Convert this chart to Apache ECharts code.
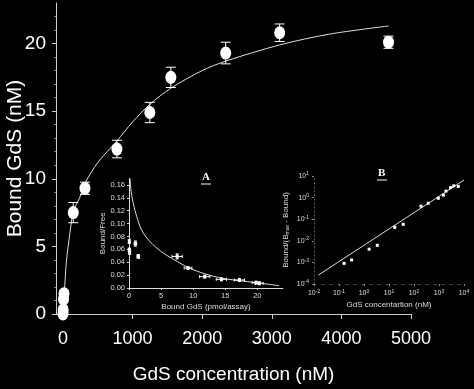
<!DOCTYPE html>
<html><head><meta charset="utf-8">
<script src="https://cdn.jsdelivr.net/npm/echarts@6/dist/echarts.min.js"></script>
<style>html,body{margin:0;padding:0;background:#000}#c{width:474px;height:389px}</style>
</head><body><div id="c"></div>
<script>
// ---- main panel data ----
const mainX   = [0, 3, 8, 15, 148, 316, 775, 1248, 1550, 2338, 3113, 4677];
const mainY   = [0, 0.3, 1.1, 1.5, 7.5, 9.3, 12.2, 14.9, 17.5, 19.3, 20.8, 20.1];
const mainErr = [0, 0, 0, 0.2, 0.75, 0.45, 0.65, 0.75, 0.75, 0.8, 0.65, 0.45];
const fitX = [0, 20, 50, 100, 150, 240, 320, 500, 775, 1000, 1248, 1550, 2000, 2338, 3113, 3830, 4677];
const fitY = [0, 1.6, 3.9, 6.0, 7.6, 8.6, 9.7, 11.2, 12.8, 14.2, 15.5, 16.7, 18.0, 18.7, 19.9, 20.7, 21.3];
const mainXTicks = [0, 1000, 2000, 3000, 4000, 5000];
const mainYTicks = [0, 5, 10, 15, 20];
// ---- inset A (Scatchard) ----
const aX    = [0.05, 0.05, 0.1, 1.0, 1.45, 7.5, 9.2, 11.8, 14.4, 17.2, 19.8, 20.3];
const aY    = [0.072, 0.059, 0.055, 0.069, 0.049, 0.049, 0.031, 0.0176, 0.0134, 0.0124, 0.0083, 0.0073];
const aXErr = [0, 0, 0, 0.2, 0.2, 0.8, 0.6, 0.8, 0.8, 0.8, 0.6, 0.6];
const aYErr = [0.003, 0.003, 0.003, 0.004, 0.003, 0.004, 0.001, 0.001, 0.001, 0.001, 0.001, 0.001];
const aFitX = [0.16, 0.3, 0.67, 1.2, 1.96, 3.26, 5.1, 7.1, 9.2, 11.8, 14.6, 17.2, 19.8, 23.4];
const aFitY = [0.170, 0.152, 0.131, 0.111, 0.090, 0.072, 0.056, 0.0435, 0.032, 0.022, 0.015, 0.0114, 0.0083, 0.0036];
const aXTicks = [0, 5, 10, 15, 20];
const aYTicks = [0, 0.02, 0.04, 0.06, 0.08, 0.10, 0.12, 0.14, 0.16];
// ---- inset B (Hill plot) ----
const bX = [0.16, 0.32, 1.6, 3.4, 17, 37, 190, 370, 940, 1500, 1900, 2900, 3900, 5900];
const bY = [0.0009, 0.0013, 0.0041, 0.0062, 0.042, 0.058, 0.40, 0.55, 0.93, 1.3, 2.0, 2.9, 3.5, 3.3];
const bFitX = [0.015, 10000];
const bFitY = [0.00026, 6.5];

const SANS = "'Liberation Sans',Arial,sans-serif";
const zip = (...a) => a[0].map((_, i) => a.map(arr => arr[i]));

function errRender(cap) {
  return function (params, api) {
    const x = api.value(0), y = api.value(1), ex = api.value(2), ey = api.value(3);
    const ch = [];
    const st = {stroke: '#fff', lineWidth: 1};
    if (ey > 0) {
      const t = api.coord([x, y + ey]), b = api.coord([x, y - ey]);
      ch.push({type: 'line', shape: {x1: t[0], y1: t[1], x2: b[0], y2: b[1]}, style: st});
      ch.push({type: 'line', shape: {x1: t[0] - cap, y1: t[1], x2: t[0] + cap, y2: t[1]}, style: st});
      ch.push({type: 'line', shape: {x1: b[0] - cap, y1: b[1], x2: b[0] + cap, y2: b[1]}, style: st});
    }
    if (ex > 0) {
      const l = api.coord([x - ex, y]), r = api.coord([x + ex, y]);
      ch.push({type: 'line', shape: {x1: l[0], y1: l[1], x2: r[0], y2: r[1]}, style: st});
      ch.push({type: 'line', shape: {x1: l[0], y1: l[1] - 1.5, x2: l[0], y2: l[1] + 1.5}, style: st});
      ch.push({type: 'line', shape: {x1: r[0], y1: r[1] - 1.5, x2: r[0], y2: r[1] + 1.5}, style: st});
    }
    return {type: 'group', children: ch};
  };
}

const supFmt = v => '10{s|' + Math.round(Math.log10(v)) + '}';
const smallRich = {s: {fontSize: 5, color: '#ddd', verticalAlign: 'top', padding: [0, 0, 4, 0], fontFamily: SANS}};

const chart = echarts.init(document.getElementById('c'), null, {renderer: 'canvas'});
chart.setOption({
  backgroundColor: '#000',
  animation: false,
  grid: [
    {left: 56, right: 63, top: 3, bottom: 75, containLabel: false, outerBoundsMode: 'none'},
    {left: 129, right: 191, top: 178.5, bottom: 101, containLabel: false, outerBoundsMode: 'none'},
    {left: 314, right: 10, top: 176, bottom: 105, containLabel: false, outerBoundsMode: 'none'}
  ],
  xAxis: [
    {gridIndex: 0, type: 'value', min: -100, max: 5000,
     name: 'GdS concentration (nM)', nameLocation: 'middle', nameGap: 51, nameMoveOverlap: false,
     nameTextStyle: {color: '#fff', fontSize: 19, fontFamily: SANS},
     axisLine: {onZero: false, lineStyle: {color: '#ccc', width: 1}},
     axisTick: {length: 5, customValues: mainXTicks, lineStyle: {color: '#ccc'}},
     axisLabel: {customValues: mainXTicks, color: '#fff', fontSize: 18, fontFamily: SANS, margin: 16,
                 formatter: v => String(v)},
     splitLine: {show: false}},
    {gridIndex: 1, type: 'value', min: 0, max: 24,
     name: 'Bound GdS (pmol/assay)', nameLocation: 'middle', nameGap: 15, nameMoveOverlap: false,
     nameTextStyle: {color: '#ddd', fontSize: 8, fontFamily: SANS},
     axisLine: {onZero: false, lineStyle: {color: '#ddd', width: 1}},
     axisTick: {length: 2, customValues: aXTicks, lineStyle: {color: '#ddd'}},
     axisLabel: {customValues: aXTicks, color: '#ddd', fontSize: 7.5, fontFamily: SANS, margin: 4},
     splitLine: {show: false}},
    {gridIndex: 2, type: 'log', min: 0.01, max: 10000, logBase: 10, interval: 1,
     name: 'GdS concentartion (nM)', nameLocation: 'middle', nameGap: 17, nameMoveOverlap: false,
     nameTextStyle: {color: '#ddd', fontSize: 8, fontFamily: SANS},
     axisLine: {onZero: false, lineStyle: {color: '#555', width: 1, type: [2, 6]}},
     axisTick: {length: 2, lineStyle: {color: '#888'}},
     axisLabel: {color: '#ddd', fontSize: 7, fontFamily: SANS, margin: 5, formatter: supFmt, rich: smallRich},
     splitLine: {show: false}, minorTick: {show: false}}
  ],
  yAxis: [
    {gridIndex: 0, type: 'value', min: 0, max: 23,
     name: 'Bound GdS (nM)', nameLocation: 'middle', nameGap: 30, nameMoveOverlap: false,
     nameTextStyle: {color: '#fff', fontSize: 21, fontFamily: SANS},
     axisLine: {onZero: false, lineStyle: {color: '#ccc', width: 1}},
     axisTick: {length: 4, customValues: mainYTicks, lineStyle: {color: '#ccc'}},
     minorTick: {show: true, splitNumber: 5, length: 2, lineStyle: {color: '#777'}},
     axisLabel: {customValues: mainYTicks, color: '#fff', fontSize: 19, fontFamily: SANS, margin: 10},
     splitLine: {show: false}},
    {gridIndex: 1, type: 'value', min: 0, max: 0.17,
     name: 'Bound/Free', nameLocation: 'middle', nameGap: 22, nameMoveOverlap: false,
     nameTextStyle: {color: '#ddd', fontSize: 8, fontFamily: SANS},
     axisLine: {onZero: false, lineStyle: {color: '#ddd', width: 1}},
     axisTick: {length: 2, customValues: aYTicks, lineStyle: {color: '#ddd'}},
     axisLabel: {customValues: aYTicks, color: '#ddd', fontSize: 7.5, fontFamily: SANS, margin: 4,
                 formatter: v => v.toFixed(2)},
     splitLine: {show: false}},
    {gridIndex: 2, type: 'log', min: 0.0001, max: 10, logBase: 10, interval: 1,
     name: 'Bound/(B{sub|max} - Bound)', nameLocation: 'middle', nameGap: 24, nameMoveOverlap: false,
     nameTextStyle: {color: '#ddd', fontSize: 8, fontFamily: SANS,
       rich: {sub: {fontSize: 5, color: '#ddd', verticalAlign: 'bottom', fontFamily: SANS}}},
     axisLine: {onZero: false, lineStyle: {color: '#666', width: 1, type: [1, 3]}},
     axisTick: {length: 2, lineStyle: {color: '#888'}},
     axisLabel: {color: '#ddd', fontSize: 7, fontFamily: SANS, margin: 5, formatter: supFmt, rich: smallRich},
     splitLine: {show: false}, minorTick: {show: false}}
  ],
  graphic: [
    {type: 'group', children: [
      {type: 'text', left: 202, top: 172, style: {text: 'A', fill: '#fff', font: 'bold 11px "Liberation Serif", serif'}},
      {type: 'line', shape: {x1: 201, y1: 184, x2: 211, y2: 184}, style: {stroke: '#fff', lineWidth: 1}}
    ]},
    {type: 'group', children: [
      {type: 'text', left: 378, top: 168, style: {text: 'B', fill: '#fff', font: 'bold 11px "Liberation Serif", serif'}},
      {type: 'line', shape: {x1: 377, y1: 180, x2: 387, y2: 180}, style: {stroke: '#fff', lineWidth: 1}}
    ]}
  ],
  series: [
    {type: 'line', xAxisIndex: 0, yAxisIndex: 0, data: zip(fitX, fitY), smooth: 0.3, showSymbol: false,
     lineStyle: {color: '#ddd', width: 1}, z: 2},
    {type: 'custom', xAxisIndex: 0, yAxisIndex: 0, renderItem: errRender(5),
     data: zip(mainX, mainY, mainX.map(() => 0), mainErr), z: 3},
    {type: 'scatter', xAxisIndex: 0, yAxisIndex: 0, data: zip(mainX, mainY), symbol: 'circle', symbolSize: [11, 13],
     itemStyle: {color: '#fff', opacity: 1}, z: 4},
    {type: 'line', xAxisIndex: 1, yAxisIndex: 1, data: zip(aFitX, aFitY), smooth: 0.3, showSymbol: false,
     lineStyle: {color: '#ddd', width: 1}, z: 2},
    {type: 'custom', xAxisIndex: 1, yAxisIndex: 1, renderItem: errRender(1.5),
     data: zip(aX, aY, aXErr, aYErr), z: 3},
    {type: 'scatter', xAxisIndex: 1, yAxisIndex: 1, data: zip(aX, aY), symbol: 'rect', symbolSize: [3, 4],
     itemStyle: {color: '#fff', opacity: 1}, z: 4},
    {type: 'line', xAxisIndex: 2, yAxisIndex: 2, data: zip(bFitX, bFitY), showSymbol: false,
     lineStyle: {color: '#ddd', width: 1}, z: 2},
    {type: 'scatter', xAxisIndex: 2, yAxisIndex: 2, data: zip(bX, bY), symbol: 'rect', symbolSize: [3, 3],
     itemStyle: {color: '#fff', opacity: 1}, z: 4}
  ]
});
</script></body></html>
